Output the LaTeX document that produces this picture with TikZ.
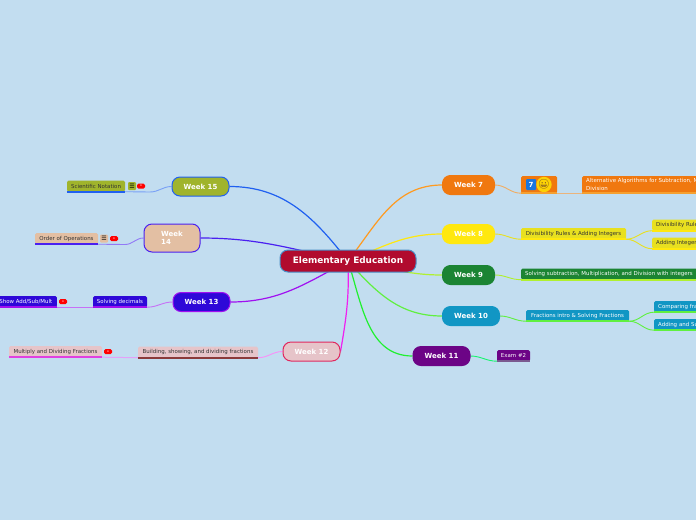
\documentclass[tikz,border=0pt]{standalone}
\usepackage{fontspec}
\setmainfont{DejaVu Sans}
\newfontfamily\emojifont{Noto Emoji}
\usetikzlibrary{backgrounds}
\definecolor{bgblue}{HTML}{C2DDF0}
\definecolor{rootred}{HTML}{B10B2E}
\definecolor{rootedge}{HTML}{4A90C8}
\definecolor{orangefill}{HTML}{F0780F}
\definecolor{yellowfill}{HTML}{FFE80F}
\definecolor{leafyellow}{HTML}{E8E020}
\definecolor{greenfill}{HTML}{1B8433}
\definecolor{cyanfill}{HTML}{1196C4}
\definecolor{purplefill}{HTML}{6C0486}
\definecolor{pinkfill}{HTML}{E6C4C9}
\definecolor{pinkedge}{HTML}{E0285F}
\definecolor{indigofill}{HTML}{2E08D8}
\definecolor{violetline}{HTML}{A010F0}
\definecolor{tanfill}{HTML}{E3BFA3}
\definecolor{indigoline}{HTML}{4A20F0}
\definecolor{olivefill}{HTML}{A0B42C}
\definecolor{blueline}{HTML}{2060F0}
\definecolor{orangeline}{HTML}{FF9A20}
\definecolor{limeline}{HTML}{B0F030}
\definecolor{greenline}{HTML}{60F040}
\definecolor{brightgreen}{HTML}{20F030}
\definecolor{magline}{HTML}{F020F0}
\definecolor{orangeunder}{HTML}{F5A030}
\definecolor{purpleunder}{HTML}{7A5A90}
\definecolor{brownunder}{HTML}{8B3A3A}
\definecolor{magunder}{HTML}{E040E0}
\tikzset{
week/.style={ % Sets the properties for each week
rounded corners=8pt,
line width=1pt,
inner sep=0pt,
text=white,
font=\fontsize{7}{8.5}\selectfont\bfseries},
topic/.style={ % Sets the properties for each leaf box
rounded corners=1.5pt,
inner sep=0pt,
text=white,
font=\fontsize{5.45}{7.5}\selectfont},
cutoff/.style={ % Leaf box that runs off the page
topic,
minimum height=11pt,
anchor=west,
text width=#1,
align=left},
mainline/.style={line width=1.2pt,out=#1,in=180},
subline/.style={line width=.9pt,out=0,in=180},
listicon/.style={rounded corners=1pt,inner sep=0pt,minimum width=8pt,minimum height=8pt,font=\fontsize{6}{6}\selectfont,text=black},
redicon/.style={fill=red,rounded corners=1.5pt,inner sep=0pt,minimum width=8pt,minimum height=5pt,text=white,font=\fontsize{3}{3}\selectfont}
}

\begin{document}
\begin{tikzpicture}[x=1pt,y=-1pt]
\clip (0,0) rectangle (696,520);

% central topic
\node[week,fill=rootred,draw=rootedge,minimum width=136pt,minimum height=22pt,font=\fontsize{8.9}{10}\selectfont\bfseries] (root) at (348,261) {Elementary Education};

% weeks
\node[week,fill=orangefill,draw=orangefill,minimum width=52pt,minimum height=19pt] (w7) at (468.5,185) {Week 7};
\node[week,fill=yellowfill,draw=yellowfill,minimum width=52pt,minimum height=19pt] (w8) at (468.5,234) {Week 8};
\node[week,fill=greenfill,draw=greenfill,minimum width=52pt,minimum height=19pt] (w9) at (468.5,275) {Week 9};
\node[week,fill=cyanfill,draw=cyanfill,minimum width=57pt,minimum height=19pt] (w10) at (471,316) {Week 10};
\node[week,fill=purplefill,draw=purplefill,minimum width=57pt,minimum height=19pt] (w11) at (441.5,356) {Week 11};
\node[week,fill=pinkfill,draw=pinkedge,minimum width=57pt,minimum height=19pt] (w12) at (311.5,351.5) {Week 12};
\node[week,fill=indigofill,draw=violetline,minimum width=57pt,minimum height=19pt] (w13) at (201.5,302) {Week 13};
\node[week,fill=tanfill,draw=indigoline,minimum width=56pt,minimum height=28pt,align=left] (w14) at (172,238) {Week\\14};
\node[week,fill=olivefill,draw=blueline,minimum width=57pt,minimum height=19pt] (w15) at (200.5,186.5) {Week 15};

% leaf boxes, right side
\node[topic,fill=orangefill,minimum width=36pt,minimum height=17pt] (t7) at (539,184.5) {};
\node[week,fill=cyanfill!40!blueline,rounded corners=1pt,minimum width=10pt,minimum height=11pt] (seven) at (531,184.5) {7};
\node[circle,fill=yellow!70!orange,text=brown!60!black,inner sep=0pt,minimum size=11pt,font=\fontsize{9.5}{9.5}\selectfont\emojifont] (face) at (544,184.5) {😀};
\node[cutoff=200pt,fill=orangefill,minimum height=17pt] (t7b) at (582,184.5) {\hspace*{4pt}Alternative Algorithms for Subtraction, Multiplication, and\\\hspace*{4pt}Division};
\node[topic,fill=leafyellow,text=black!80,minimum width=105pt,minimum height=11pt] (t8) at (573.5,233.5) {Divisibility Rules \& Adding Integers};
\node[cutoff=90pt,fill=leafyellow,text=black!80] (t8a) at (652,225) {\hspace*{4pt}Divisibility Rules};
\node[cutoff=90pt,fill=leafyellow,text=black!80] (t8b) at (652,243) {\hspace*{4pt}Adding Integers};
\node[cutoff=185pt,fill=greenfill] (t9) at (521,274) {\hspace*{4pt}Solving subtraction, Multiplication, and Division with integers};
\node[topic,fill=cyanfill,minimum width=103pt,minimum height=11pt] (t10) at (577.5,315.5) {Fractions intro \& Solving Fractions};
\node[cutoff=110pt,fill=cyanfill] (t10a) at (654,306.5) {\hspace*{4pt}Comparing fractions};
\node[cutoff=110pt,fill=cyanfill] (t10b) at (654,324.5) {\hspace*{4pt}Adding and Subtracting};
\node[topic,fill=purplefill,minimum width=33pt,minimum height=11pt] (t11) at (513.5,355.5) {Exam \#2};

% leaf boxes, left side
\node[topic,fill=pinkfill,text=black!80,minimum width=120pt,minimum height=11pt] (t12) at (198,352) {Building, showing, and dividing fractions};
\node[topic,fill=pinkfill,text=black!80,minimum width=93pt,minimum height=11pt] (t12b) at (55.5,351.5) {Multiply and Dividing Fractions};
\node[redicon] (r12b) at (108,351.5) {o};
\node[topic,fill=indigofill,minimum width=54pt,minimum height=11pt] (t13) at (120,301.5) {Solving decimals};
\node[topic,fill=indigofill,minimum width=62pt,minimum height=11pt,anchor=east] (t13b) at (57,301.5) {Show Add/Sub/Mult};
\node[redicon] (r13b) at (63,301.5) {o};
\node[topic,fill=tanfill,text=black!80,minimum width=63pt,minimum height=11pt] (t14) at (66.5,238.5) {Order of Operations};
\node[listicon,fill=tanfill] (l14) at (104,238.5) {☰};
\node[redicon] (r14) at (114,238.5) {o};
\node[topic,fill=olivefill,text=black!80,minimum width=58pt,minimum height=11pt] (t15) at (96,186) {Scientific Notation};
\node[listicon,fill=olivefill] (l15) at (132,186) {☰};
\node[redicon] (r15) at (141,186) {o};

% line under each leaf box
\foreach \leaf/\col in {t7/orangeunder,t7b/orangeunder,t8/yellowfill,t8a/yellowfill,t8b/yellowfill,t9/limeline,t10/greenline,t10a/greenline,t10b/greenline,t11/purpleunder,t12/brownunder,t12b/magunder,t13/violetline,t13b/violetline,t14/indigoline,t15/blueline}
\draw[\col,line width=1.7pt,yshift=-.5pt] (\leaf.south west) -- (\leaf.south east);

% free ends of the curves
\coordinate (c14) at (125,244.5);
\coordinate (c15) at (150,192);

\begin{scope}[on background layer]
\fill[bgblue] (0,0) rectangle (696,520);
% from the centre to the weeks
\draw[mainline=52,orangeline] (root.center) to (w7.west);
\draw[mainline=22,yellowfill] (root.center) to (w8.west);
\draw[mainline=-8,limeline] (root.center) to (w9.west);
\draw[mainline=-48,greenline] (root.center) to (w10.west);
\draw[mainline=-72,brightgreen] (root.center) to (w11.west);
\draw[line width=1.2pt,magline] (root.center) to[out=-88,in=80] (w12.east);
\draw[line width=1.2pt,violetline] (root.center) to[out=-152,in=0] (w13.east);
\draw[line width=1.2pt,indigoline] (root.center) to[out=168,in=0] (w14.east);
\draw[line width=1.2pt,blueline] (root.center) to[out=128,in=0] (w15.east);
% from the weeks to the leaf boxes
\draw[subline,orangeline!50!tanfill] (w7.east) to (t7.south west);
\draw[line width=1pt,orangeline!30!tanfill] (t7.south east) -- (t7b.south west);
\draw[subline,leafyellow] (w8.east) to (t8.south west);
\draw[subline,leafyellow] (t8.south east) to (t8a.south west);
\draw[subline,leafyellow] (t8.south east) to (t8b.south west);
\draw[subline,limeline] (w9.east) to (t9.south west);
\draw[subline,greenline] (w10.east) to (t10.south west);
\draw[subline,greenline] (t10.south east) to (t10a.south west);
\draw[subline,greenline] (t10.south east) to (t10b.south west);
\draw[subline,brightgreen!70!cyan] (w11.east) to (t11.south west);
\draw[subline,magline!50!white] (w12.west) to[out=180,in=0] (t12.south east);
\draw[line width=1pt,magline!30!violetline!40!white] (t12.south west) -- (t12b.south east);
\draw[subline,violetline!60!white] (w13.west) to[out=180,in=0] (t13.south east);
\draw[line width=.9pt,violetline!60!white] (t13.south west) -- (t13b.south east);
\draw[subline,indigoline!60!white] (w14.west) to[out=180,in=0] (c14) -- (t14.south east);
\draw[subline,blueline!60!white] (w15.west) to[out=180,in=0] (c15) -- (t15.south east);
\end{scope}
\end{tikzpicture}
\end{document}
